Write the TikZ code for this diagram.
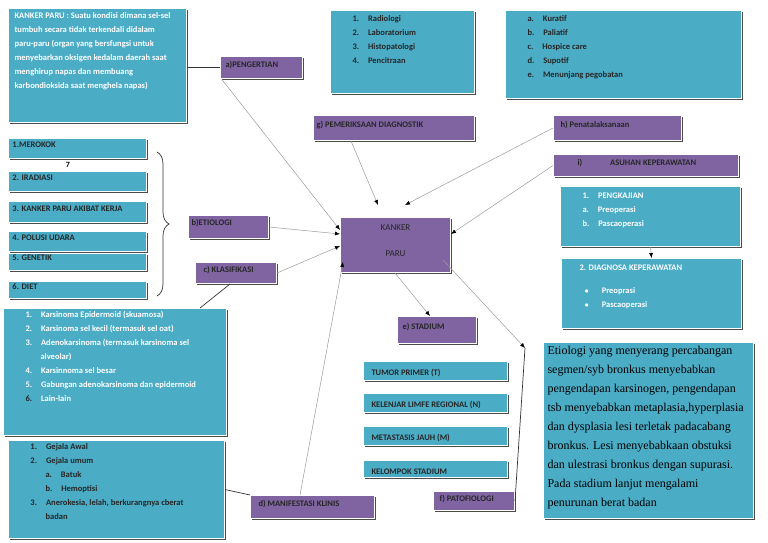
\documentclass[tikz,border=0pt]{standalone}
\usepackage{fontspec}
\setmainfont{Carlito}
\newfontfamily\serifx{Liberation Serif}
\usetikzlibrary{shadows,arrows.meta,decorations.pathreplacing}
\definecolor{teal}{HTML}{4BACC6}
\definecolor{purp}{HTML}{8064A2}
\definecolor{ln}{HTML}{9A9A9A}
% box content: width, height, top pad, left pad, text
\newcommand{\mybox}[5]{\vbox to #2pt{\hsize=#1pt\vskip#3pt\hbox{\hspace*{#4pt}\parbox[t]{\dimexpr#1pt-#4pt-4pt}{\raggedright #5}}\vss}}
\tikzset{
  bx/.style={anchor=north west, draw=white, line width=1pt, inner sep=0pt,
    drop shadow={shadow xshift=1.6pt, shadow yshift=-1.6pt, fill=black!70, opacity=1}},
  tbox/.style={bx, fill=teal, text=white, font=\bfseries\fontsize{8.5}{14}\selectfont},
  pbox/.style={bx, fill=purp, text=black!85, font=\bfseries\fontsize{8.5}{12}\selectfont},
  conn/.style={ln, line width=0.5pt, -{Latex[length=5pt,width=4pt,black]}},
  dark/.style={black!80, line width=0.7pt},
}
\begin{document}
\begin{tikzpicture}[x=1pt,y=-1pt]
\useasboundingbox (0,0) rectangle (768,543);
% a) pengertian
\node[tbox] (def) at (8,8) {\mybox{182}{114}{4}{6}{KANKER PARU : Suatu kondisi dimana sel-sel tumbuh secara tidak terkendali didalam paru-paru (organ yang bersfungsi untuk menyebarkan oksigen kedalam daerah saat menghirup napas dan membuang karbondioksida saat menghela napas)}};
\node[pbox] (a) at (220,56) {\mybox{86}{22}{5}{5}{a)PENGERTIAN}};
% g) diagnostik
\node[tbox, text=black!85] (glist) at (330,10) {\mybox{148}{83}{5}{22}{1.\hspace{9pt}Radiologi\\2.\hspace{9pt}Laboratorium\\3.\hspace{9pt}Histopatologi\\4.\hspace{9pt}Pencitraan}};
\node[pbox] (g) at (313,115) {\mybox{165}{25}{6}{3}{g) PEMERIKSAAN DIAGNOSTIK}};
% h) penatalaksanaan
\node[tbox, text=black!85] (hlist) at (505,10) {\mybox{240}{88}{5}{22}{a.\hspace{9pt}Kuratif\\b.\hspace{9pt}Paliatif\\c.\hspace{9pt}Hospice care\\d.\hspace{9pt}Supotif\\e.\hspace{9pt}Menunjang pegobatan}};
\node[pbox] (h) at (553,115) {\mybox{132}{25}{6}{7}{h) Penatalaksanaan}};
% i) asuhan
\node[pbox] (i) at (553,154) {\mybox{189}{22}{5}{24}{i)\hspace{28pt}ASUHAN KEPERAWATAN}};
\node[tbox] (kaji) at (560,186) {\mybox{184}{60}{6}{22}{1.\hspace{9pt}PENGKAJIAN\\a.\hspace{9pt}Preoperasi\\b.\hspace{9pt}Pascaoperasi}};
\node[tbox] (diag) at (561,258) {\mybox{184}{70}{6}{18}{2. DIAGNOSA KEPERAWATAN\\[9pt]\hspace*{5pt}$\bullet$\hspace{13pt}Preoprasi\\\hspace*{5pt}$\bullet$\hspace{13pt}Pascaoperasi}};
% center
\node[pbox, font=\fontsize{9}{12}\selectfont] (kp) at (340,217) {\vbox to 55pt{\hsize=110pt\vskip7pt\centerline{KANKER}\vskip14pt\centerline{PARU}\vss}};
% b) etiologi
\node[tbox, text=black!85] (e1) at (8,138) {\mybox{142}{20}{3}{4}{1.MEROKOK}};
\node[tbox, text=black!85] (e2) at (8,171) {\mybox{142}{20}{3}{4}{2. IRADIASI}};
\node[tbox, text=black!85] (e3) at (8,201) {\mybox{142}{21}{4}{4}{3. KANKER PARU AKIBAT KERJA}};
\node[tbox, text=black!85] (e4) at (8,231) {\mybox{142}{20}{3}{4}{4. POLUSI UDARA}};
\node[tbox, text=black!85] (e5) at (8,253) {\mybox{142}{17}{1}{4}{5. GENETIK}};
\node[tbox, text=black!85] (e6) at (8,281) {\mybox{142}{17}{2}{4}{6. DIET}};
\node[font=\bfseries\fontsize{8}{9}\selectfont] (seven) at (68,165) {7};
\node[pbox] (b) at (188,215) {\mybox{84}{23}{4}{3}{b)ETIOLOGI}};
\coordinate (brt) at (157,152);
\coordinate (brb) at (157,296);
\draw[dark, decorate, decoration={brace, amplitude=12pt}] (brt) -- (brb);
% c) klasifikasi
\node[pbox] (c) at (195,262) {\mybox{85}{21}{4}{8}{c) KLASIFIKASI}};
\node[tbox] (clist) at (3,308) {\mybox{227}{127}{3}{22}{1.\hspace{9pt}Karsinoma Epidermoid (skuamosa)\\2.\hspace{9pt}Karsinoma sel kecil (termasuk sel oat)\\3.\hspace{9pt}Adenokarsinoma (termasuk karsinoma sel\\\hspace*{15pt}alveolar)\\4.\hspace{9pt}Karsinnoma sel besar\\5.\hspace{9pt}Gabungan adenokarsinoma dan epidermoid\\{\color{black!85}6.}\hspace{9pt}Lain-lain}};
% d) manifestasi
\node[tbox, text=black!85] (dlist) at (8,440) {\mybox{220}{98}{3}{22}{1.\hspace{9pt}Gejala Awal\\2.\hspace{9pt}Gejala umum\\\hspace*{15pt}a.\hspace{9pt}Batuk\\\hspace*{15pt}b.\hspace{9pt}Hemoptisi\\3.\hspace{9pt}Anerokesia, lelah, berkurangnya cberat\\\hspace*{15pt}badan}};
\node[pbox] (d) at (250,495) {\mybox{128}{23}{5}{8}{d) MANIFESTASI KLINIS}};
% e) stadium
\node[pbox] (e) at (397,316) {\mybox{83}{27}{7}{5}{e) STADIUM}};
\node[tbox, text=black!85] (s1) at (363,361) {\mybox{148}{19}{8}{8}{TUMOR PRIMER (T)}};
\node[tbox, text=black!85] (s2) at (363,393) {\mybox{148}{19}{8}{8}{KELENJAR LIMFE REGIONAL (N)}};
\node[tbox, text=black!85] (s3) at (363,426) {\mybox{148}{19}{8}{8}{METASTASIS JAUH (M)}};
\node[tbox, text=black!85] (s4) at (363,460) {\mybox{148}{17}{8}{8}{KELOMPOK STADIUM}};
% f) patofiologi
\node[pbox] (f) at (433,491) {\mybox{85}{19}{4}{6}{f) PATOFIOLOGI}};
\node[tbox, text=black, font=\serifx\fontsize{12}{19}\selectfont] (ftext) at (543,342) {\mybox{214}{176}{4}{4}{Etiologi yang menyerang percabangan\\segmen/syb bronkus menyebabkan\\pengendapan karsinogen, pengendapan\\tsb menyebabkan metaplasia,hyperplasia\\dan dysplasia lesi terletak padacabang\\bronkus. Lesi menyebabkaan obstuksi\\dan ulestrasi bronkus dengan supurasi.\\Pada stadium lanjut mengalami\\penurunan berat badan}};
\coordinate (fp) at (525,348);
% connectors
\draw[dark] (def.east |- a.west) -- (a.west);
\draw[conn] ([xshift=-40pt]a.south) -- ([yshift=-13pt]kp.north west);
\draw[conn] ([xshift=-43pt]g.south) -- ([xshift=38pt,yshift=12pt]kp.north west);
\draw[conn] (h.west) -- ([xshift=65pt,yshift=12pt]kp.north west);
\draw[conn] (i.west) -- ([yshift=-17pt]kp.north east);
\draw[conn] (b.east) -- ([yshift=-17pt]kp.north west);
\draw[conn] (c.east) -- ([yshift=-29pt]kp.north west);
\draw[conn] ([xshift=50pt]d.north west) -- ([xshift=3pt,yshift=-45pt]kp.north west);
\draw[conn] ([xshift=55pt]kp.south west) -- ([xshift=33pt]e.north west);
\draw[conn] ([xshift=-8pt,yshift=-43pt]kp.north east) -- (fp);
\draw[dark] (fp) -- (f.east);
\draw[conn] (kaji.south) -- (diag.north);
\draw[dark] ([xshift=35pt]c.south west) -- ([xshift=197pt]clist.north west);
\draw[dark] (dlist.east) -- (d.north west);
\end{tikzpicture}
\end{document}
